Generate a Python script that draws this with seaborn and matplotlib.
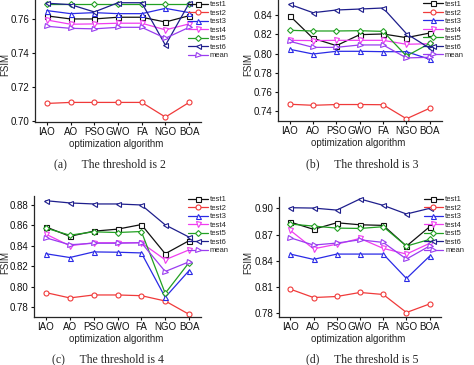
import numpy as np
import matplotlib
matplotlib.use("Agg")
import matplotlib.pyplot as plt
from matplotlib.ticker import FormatStrFormatter
import seaborn as sns

# categories and series
algos = ["IAO", "AO", "PSO", "GWO", "FA", "NGO", "BOA"]
names = ["test1", "test2", "test3", "test4", "test5", "test6", "mean"]

# threshold 2
th2_test1 = [0.7618, 0.7600, 0.7600, 0.7610, 0.7610, 0.7582, 0.7619]
th2_test2 = [0.7105, 0.7111, 0.7111, 0.7111, 0.7111, 0.7025, 0.7111]
th2_test3 = [0.7649, 0.7631, 0.7637, 0.7631, 0.7631, 0.7662, 0.7637]
th2_test4 = [0.7594, 0.7569, 0.7571, 0.7575, 0.7575, 0.7536, 0.7571]
th2_test5 = [0.7688, 0.7688, 0.7688, 0.7688, 0.7688, 0.7688, 0.7688]
th2_test6 = [0.7692, 0.7684, 0.7641, 0.7695, 0.7695, 0.7446, 0.7692]
th2_mean = [0.7557, 0.7545, 0.7542, 0.7551, 0.7551, 0.7487, 0.7551]

# threshold 3
th3_test1 = [0.8393, 0.8158, 0.8082, 0.8196, 0.8203, 0.8165, 0.8213]
th3_test2 = [0.7473, 0.7462, 0.7470, 0.7470, 0.7468, 0.7322, 0.7432]
th3_test3 = [0.8044, 0.7995, 0.8023, 0.8023, 0.8019, 0.8019, 0.7940]
th3_test4 = [0.8137, 0.8134, 0.8137, 0.8137, 0.8137, 0.8096, 0.8102]
th3_test5 = [0.8241, 0.8234, 0.8234, 0.8237, 0.8230, 0.7974, 0.8106]
th3_test6 = [0.8511, 0.8424, 0.8452, 0.8462, 0.8473, 0.8206, 0.8054]
th3_mean = [0.8127, 0.8064, 0.8064, 0.8089, 0.8089, 0.7954, 0.7961]

# threshold 4
th4_test1 = [0.8585, 0.8493, 0.8543, 0.8563, 0.8608, 0.8322, 0.8450]
th4_test2 = [0.7941, 0.7889, 0.7918, 0.7918, 0.7911, 0.7859, 0.7728]
th4_test3 = [0.8322, 0.8285, 0.8340, 0.8337, 0.8330, 0.7895, 0.8157]
th4_test4 = [0.8514, 0.8400, 0.8430, 0.8430, 0.8430, 0.8263, 0.8360]
th4_test5 = [0.8573, 0.8504, 0.8537, 0.8530, 0.8540, 0.7934, 0.8236]
th4_test6 = [0.8842, 0.8820, 0.8810, 0.8810, 0.8800, 0.8605, 0.8485]
th4_mean = [0.8478, 0.8410, 0.8425, 0.8425, 0.8430, 0.8148, 0.8243]

# threshold 5
th5_test1 = [0.8843, 0.8760, 0.8835, 0.8812, 0.8805, 0.8568, 0.8790]
th5_test2 = [0.8076, 0.7980, 0.7992, 0.8038, 0.8015, 0.7809, 0.7907]
th5_test3 = [0.8477, 0.8416, 0.8477, 0.8477, 0.8477, 0.8198, 0.8454]
th5_test4 = [0.8748, 0.8537, 0.8590, 0.8656, 0.8542, 0.8477, 0.8600]
th5_test5 = [0.8820, 0.8797, 0.8774, 0.8770, 0.8790, 0.8568, 0.8645]
th5_test6 = [0.9007, 0.9003, 0.8980, 0.9107, 0.9034, 0.8935, 0.9000]
th5_mean = [0.8663, 0.8580, 0.8603, 0.8640, 0.8610, 0.8420, 0.8570]

colors = ["#111111", "#f03a3a", "#2a2ae6", "#f03cf0", "#22a022", "#1e1e8c", "#9a3cf0"]
markers = ["s", "o", "^", "v", "D", "<", ">"]

sns.set_style("ticks")
plt.rcParams["font.family"] = ["Liberation Sans", "DejaVu Sans"]

W, H = 474, 365
fig = plt.figure(figsize=(W / 100, H / 100), dpi=100)


def px_axes(left, top, right, bottom):
    # pixel box -> figure fraction axes
    return fig.add_axes([left / W, 1 - bottom / H, (right - left) / W, (bottom - top) / H])


panels = [
    dict(box=(35, 0, 201, 121.7), ylim=(0.6998, 0.7711), yticks=np.arange(0.70, 0.761, 0.02),
         series=[th2_test1, th2_test2, th2_test3, th2_test4, th2_test5, th2_test6, th2_mean],
         caption="(a)     The threshold is 2", cap_xy=(110, 164.5), leg=(188, 1.0), ylab_x=10),
    dict(box=(278, 0, 441.5, 120.7), ylim=(0.7302, 0.8556), yticks=np.arange(0.74, 0.841, 0.02),
         series=[th3_test1, th3_test2, th3_test3, th3_test4, th3_test5, th3_test6, th3_mean],
         caption="(b)     The threshold is 3", cap_xy=(362, 164.5), leg=(423, 0.8), ylab_x=253),
    dict(box=(34, 196, 201, 316.7), ylim=(0.7705, 0.8888), yticks=np.arange(0.78, 0.881, 0.02),
         series=[th4_test1, th4_test2, th4_test3, th4_test4, th4_test5, th4_test6, th4_mean],
         caption="(c)     The threshold is 4", cap_xy=(108, 359.5), leg=(188, 196.0), ylab_x=10),
    dict(box=(278.7, 196.7, 441.3, 316.7), ylim=(0.7761, 0.9133), yticks=np.arange(0.78, 0.901, 0.03),
         series=[th5_test1, th5_test2, th5_test3, th5_test4, th5_test5, th5_test6, th5_mean],
         caption="(d)     The threshold is 5", cap_xy=(362, 359.5), leg=(423.5, 196.0), ylab_x=253),
]

for p in panels:
    left, top, right, bottom = p["box"]
    ax = px_axes(left, top, right, bottom)
    for name, vals, c, m in zip(names, p["series"], colors, markers):
        sns.lineplot(x=algos, y=vals, ax=ax, color=c, marker=m, sort=False,
                     markersize=3.6 if m != "D" else 3.0, markerfacecolor="white",
                     markeredgecolor=c, markeredgewidth=0.8, linewidth=0.9, label=name)
    ax.set_xlim(-0.5, 6.5)
    ax.set_ylim(*p["ylim"])
    ax.set_yticks(p["yticks"])
    ax.yaxis.set_major_formatter(FormatStrFormatter("%.2f"))
    sns.despine(ax=ax)
    for s in ("left", "bottom"):
        ax.spines[s].set_linewidth(0.9)
    ax.tick_params(labelsize=7, length=2.5, width=0.8, pad=1.5, colors="#111111")

    ah = bottom - top
    aw = right - left
    ax.set_xlabel("optimization algorithm", fontsize=7)
    ax.xaxis.set_label_coords(0.49, -17.5 / ah)
    ax.set_ylabel("FSIM", fontsize=7)
    ax.yaxis.set_label_coords((p["ylab_x"] - left) / aw, 1 - (64 if top < 100 else 262 - top) / ah)

    lx, ly = p["leg"]
    ax.legend(loc="upper left", bbox_to_anchor=(lx / W, 1 - ly / H), bbox_transform=fig.transFigure,
              frameon=False, fontsize=5.5, handlelength=2.6, handletextpad=0.25,
              labelspacing=0.15, borderpad=0, borderaxespad=0, numpoints=1)

    cx, cy = p["cap_xy"]
    fig.text(cx / W, 1 - cy / H, p["caption"], ha="center", va="center",
             fontsize=8.5, family=["Liberation Serif", "DejaVu Serif"])

fig.savefig("out.png", dpi=100)
